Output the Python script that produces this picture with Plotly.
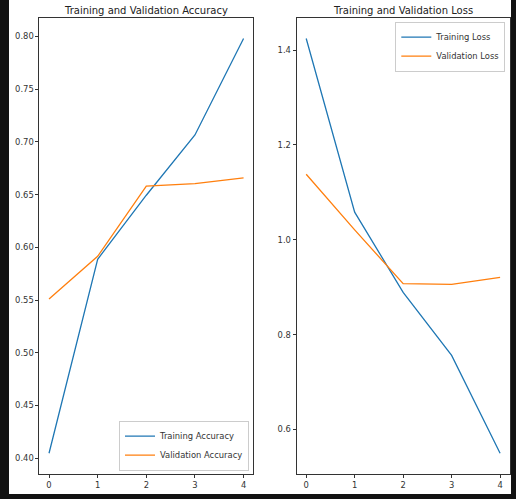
import plotly.graph_objects as go

epochs = [0, 1, 2, 3, 4]
train_acc = [0.4047, 0.5887, 0.6494, 0.7065, 0.7980]
val_acc = [0.5509, 0.5915, 0.6580, 0.6605, 0.6658]
train_loss = [1.4246, 1.0583, 0.8890, 0.7560, 0.5496]
val_loss = [1.1383, 1.0210, 0.9074, 0.9060, 0.9207]

BLUE = "#1f77b4"
ORANGE = "#ff7f0e"
W, H = 516, 499
FONT = "DejaVu Sans"


def pad_range(values):
    lo, hi = min(values), max(values)
    m = (hi - lo) * 0.05
    return [lo - m, hi + m]


fig = go.Figure()
fig.add_trace(go.Scatter(x=epochs, y=train_acc, mode="lines", name="Training Accuracy",
                         line=dict(color=BLUE, width=1.3), xaxis="x", yaxis="y", legend="legend"))
fig.add_trace(go.Scatter(x=epochs, y=val_acc, mode="lines", name="Validation Accuracy",
                         line=dict(color=ORANGE, width=1.3), xaxis="x", yaxis="y", legend="legend"))
fig.add_trace(go.Scatter(x=epochs, y=train_loss, mode="lines", name="Training Loss",
                         line=dict(color=BLUE, width=1.3), xaxis="x2", yaxis="y2", legend="legend2"))
fig.add_trace(go.Scatter(x=epochs, y=val_loss, mode="lines", name="Validation Loss",
                         line=dict(color=ORANGE, width=1.3), xaxis="x2", yaxis="y2", legend="legend2"))

axis_style = dict(
    showline=True, mirror=True, linecolor="#333333", linewidth=0.8,
    ticks="outside", ticklen=3, tickwidth=0.8, tickcolor="#333333",
    showgrid=False, zeroline=False,
    tickfont=dict(family=FONT, size=8.4, color="#333333"),
)

y_top = 1 - 17.8 / H
y_bot = 1 - 474 / H
left_dom = [39.3 / W, 253.3 / W]
right_dom = [296.5 / W, 509.8 / W]

legend_style = dict(bgcolor="white", bordercolor="#cccccc", borderwidth=1,
                    font=dict(family=FONT, size=8.4, color="#333333"), itemwidth=30,
                    tracegroupgap=0)

fig.update_layout(
    width=W, height=H,
    margin=dict(l=0, r=0, t=0, b=0),
    paper_bgcolor="#121212",
    plot_bgcolor="white",
    xaxis=dict(domain=left_dom, anchor="y", range=[-0.2, 4.2], dtick=1, **axis_style),
    yaxis=dict(domain=[y_bot, y_top], anchor="x", range=pad_range(train_acc + val_acc),
               dtick=0.05, tickformat=".2f", **axis_style),
    xaxis2=dict(domain=right_dom, anchor="y2", range=[-0.2, 4.2], dtick=1, **axis_style),
    yaxis2=dict(domain=[y_bot, y_top], anchor="x2", range=pad_range(train_loss + val_loss),
                dtick=0.2, tickformat=".1f", **axis_style),
    legend=dict(x=249 / W, y=1 - 470.7 / H, xanchor="right", yanchor="bottom", **legend_style),
    legend2=dict(x=505.3 / W, y=1 - 21.7 / H, xanchor="right", yanchor="top", **legend_style),
    shapes=[dict(type="rect", xref="paper", yref="paper", x0=9 / W, x1=511 / W,
                 y0=1 - 494 / H, y1=1, fillcolor="white", line=dict(width=0), layer="below")],
    annotations=[
        dict(text="Training and Validation Accuracy", x=sum(left_dom) / 2, y=1 - 10 / H,
             xref="paper", yref="paper", showarrow=False, xanchor="center", yanchor="middle",
             font=dict(family=FONT, size=10, color="#222222")),
        dict(text="Training and Validation Loss", x=sum(right_dom) / 2, y=1 - 10 / H,
             xref="paper", yref="paper", showarrow=False, xanchor="center", yanchor="middle",
             font=dict(family=FONT, size=10, color="#222222")),
    ],
)

# the page's default body margin would push the figure 8px off, so drop it
fig.write_html("out.html", config={"displayModeBar": False},
               post_script="document.body.style.margin='0';")
